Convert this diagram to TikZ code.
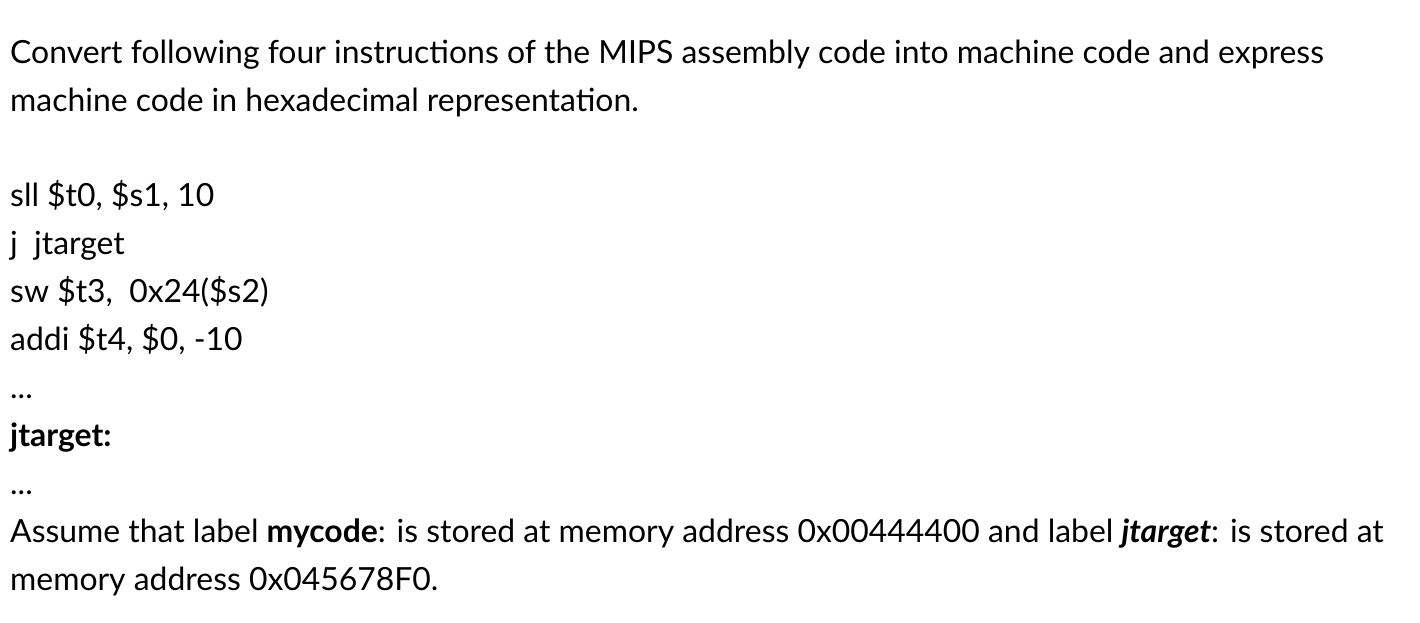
\documentclass[tikz,border=0pt]{standalone}
\usepackage{fontspec}
\setmainfont{Lato}
\begin{document}
\begin{tikzpicture}[x=1pt,y=1pt,t/.style={anchor=base west,inner sep=0,font=\fontsize{31.9}{36}\selectfont}]
\useasboundingbox (0,0) rectangle (1420,-622);
\node[t] (l1) at (10,-63) {Convert following four instructions of the MIPS assembly code into machine code and express};
\node[t] (l2) at (10,-111) {machine code in hexadecimal representation.};
\node[t] (l3) at (10,-206) {sll \$t0, \$s1, 10};
\node[t] (l4) at (10,-254) {j\ \ jtarget};
\node[t] (l5) at (10,-302) {sw \$t3,\ \ 0x24(\$s2)};
\node[t] (l6) at (10,-350) {addi \$t4, \$0, -10};
\node[t] (l7) at (10,-398) {...};
\node[t] (l8) at (10,-446) {\textbf{jtarget:}};
\node[t] (l9) at (10,-494) {...};
\node[t] (l10) at (10,-542) {Assume that label \textbf{mycode}: is stored at memory address 0x00444400 and label \textbf{\textit{jtarget}}: is stored at};
\node[t] (l11) at (10,-590) {memory address 0x045678F0.};
\end{tikzpicture}
\end{document}
